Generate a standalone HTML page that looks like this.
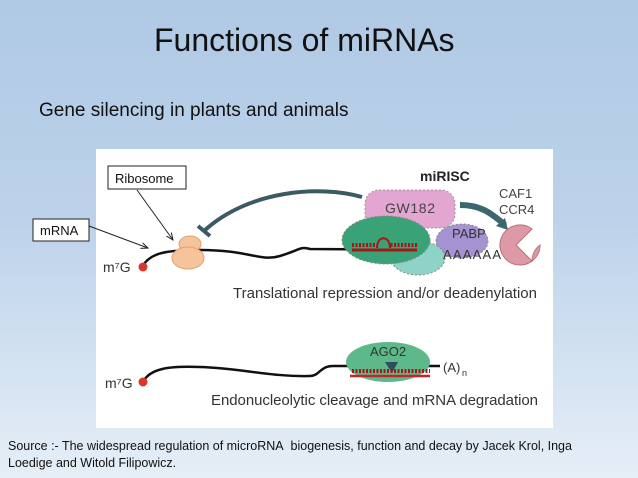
<!DOCTYPE html>
<html><head><meta charset="utf-8"><style>
body{margin:0;width:638px;height:478px;overflow:hidden;font-family:"Liberation Sans",sans-serif;
background:linear-gradient(180deg,#b0c9e4 0%,#bcd2ea 45%,#d6e4f2 80%,#e6eef7 100%);position:relative}
.t{position:absolute;white-space:nowrap;color:#111}
</style></head><body>
<div class="t" style="left:154px;top:22px;font-size:32px">Functions of miRNAs</div>
<div class="t" style="left:39px;top:100px;font-size:19px">Gene silencing in plants and animals</div>
<div style="position:absolute;left:96px;top:149px;width:457px;height:279px;background:#fff"></div>
<svg style="position:absolute;left:0;top:0" width="638" height="478" font-family="Liberation Sans, sans-serif">
<defs><marker id="a" markerWidth="8" markerHeight="8" refX="7" refY="4" orient="auto"><path d="M0,1 L7,4 L0,7" fill="none" stroke="#222" stroke-width="1"/></marker></defs>
<path d="M143,266 C150,252 170,250 200,250 C250,250 260,262 280,256 C300,250 300,246 310,249 L445,250" fill="none" stroke="#111" stroke-width="2.5"/>
<circle cx="143" cy="267" r="4.5" fill="#d9372b"/>
<text x="103" y="272" font-size="14" fill="#333">m⁷G</text>
<ellipse cx="190" cy="244" rx="11" ry="8" fill="#f6c49a" stroke="#e0a070"/>
<ellipse cx="188" cy="258" rx="16" ry="11" fill="#f6c49a" stroke="#e0a070"/>
<path d="M362,197 C320,185 250,190 205,230" fill="none" stroke="#3c5a63" stroke-width="4"/>
<path d="M198,226 L210,236" stroke="#3c5a63" stroke-width="4"/>
<path d="M460,205 C480,205 490,212 505,225" fill="none" stroke="#3c6670" stroke-width="6"/>
<path d="M496,226 L508,230 L505,218 Z" fill="#3c6670"/>
<rect x="365" y="190" width="90" height="38" rx="14" fill="#e3a5d2" stroke="#999" stroke-dasharray="2,2"/>
<text x="385" y="213" font-size="14" fill="#444" textLength="50">GW182</text>
<ellipse cx="462" cy="241" rx="26" ry="17" fill="#a592d0" stroke="#888" stroke-dasharray="2,2"/>
<text x="452" y="238" font-size="13" fill="#333">PABP</text>
<ellipse cx="418" cy="258" rx="27" ry="17" fill="#8fd3c8" stroke="#888" stroke-dasharray="2,2"/>
<ellipse cx="386" cy="240" rx="44" ry="24" fill="#3aa277" stroke="#888" stroke-dasharray="2,2"/>
<path d="M352,250 h65" stroke="#a51818" stroke-width="3" fill="none"/>
<path d="M352,245 h65" stroke="#a51818" stroke-width="4" stroke-dasharray="2,1.5"/>
<path d="M377,248 C377,235 390,235 390,248" stroke="#a51818" stroke-width="2" fill="#3aa277"/>
<text x="443" y="259" font-size="13" fill="#333" textLength="58">AAAAAA</text>
<path d="M540,245 a20,20 0 1 1 -8,-16 L516,245 L532,261 a20,20 0 0 1 8,-16z" fill="#dd9aa6" stroke="#b9707c"/>
<text x="420" y="181" font-size="14" font-weight="bold" fill="#222">miRISC</text>
<text x="499" y="198" font-size="13" fill="#444">CAF1</text>
<text x="499" y="214" font-size="13" fill="#444">CCR4</text>
<text x="233" y="298" font-size="15" fill="#333" textLength="304">Translational repression and/or deadenylation</text>
<path d="M143,382 C150,368 170,366 200,367 C240,368 270,377 310,376 C320,376 320,365 335,366 L440,366" fill="none" stroke="#111" stroke-width="2.5"/>
<circle cx="143" cy="382" r="4.5" fill="#d9372b"/>
<text x="105" y="388" font-size="14" fill="#333">m⁷G</text>
<ellipse cx="388" cy="362" rx="42" ry="20" fill="#5db98a"/>
<text x="370" y="356" font-size="13" fill="#333">AGO2</text>
<path d="M385,362 L392,373 L398,362 Z" fill="#2d4d60"/>
<path d="M350,376 h80" stroke="#c0262a" stroke-width="2.5"/>
<path d="M352,371 h78" stroke="#a51818" stroke-width="4" stroke-dasharray="2,1.5"/>
<text x="443" y="372" font-size="13" fill="#333">(A)</text><text x="462" y="376" font-size="9" fill="#333">n</text>
<text x="211" y="405" font-size="15" fill="#333" textLength="327">Endonucleolytic cleavage and mRNA degradation</text>
<rect x="108" y="166" width="78" height="23" fill="#fff" stroke="#222"/>
<text x="115" y="183" font-size="13" fill="#111">Ribosome</text>
<rect x="33" y="219" width="56" height="22" fill="#fff" stroke="#222"/>
<text x="40" y="235" font-size="13" fill="#111">mRNA</text>
<line x1="137" y1="190" x2="173" y2="240" stroke="#222" marker-end="url(#a)"/>
<line x1="89" y1="226" x2="148" y2="248" stroke="#222" marker-end="url(#a)"/>
</svg>
<div class="t" style="left:8px;top:438px;font-size:12.5px;line-height:17px">Source :- The widespread regulation of microRNA&nbsp; biogenesis, function and decay by Jacek Krol, Inga<br>Loedige and Witold Filipowicz.</div>
</body></html>
